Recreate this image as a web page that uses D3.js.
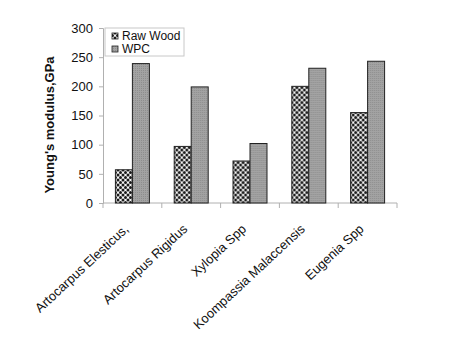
<!DOCTYPE html>
<html><head><meta charset="utf-8">
<script src="https://cdn.jsdelivr.net/npm/d3@7"></script>
<style>body{margin:0;background:#fff}svg{display:block}text{font-family:"Liberation Sans",Arial,sans-serif}</style>
</head><body>
<script>
const categories = ["Artocarpus Elesticus,", "Artocarpus Rigidus", "Xylopia Spp", "Koompassia Malaccensis", "Eugenia Spp"];
const seriesNames = ["Raw Wood", "WPC"];
const rawWood = [57, 97, 72, 200, 155];
const wpc = [239, 199, 102, 231, 243];
const yTicks = [0, 50, 100, 150, 200, 250, 300];

const W = 474, H = 340;
const svg = d3.select("body").append("svg").attr("width", W).attr("height", H);
const defs = svg.append("defs");
const pat = defs.append("pattern").attr("id","dots").attr("patternUnits","userSpaceOnUse").attr("width",5).attr("height",5);
pat.append("rect").attr("width",5).attr("height",5).attr("fill","#f4f4f4");
[[0,0],[5,0],[0,5],[5,5],[2.5,2.5]].forEach(([cx,cy])=>pat.append("circle").attr("cx",cx).attr("cy",cy).attr("r",1.5).attr("fill","#1a1a1a"));
const pat2 = defs.append("pattern").attr("id","stip").attr("patternUnits","userSpaceOnUse").attr("width",2).attr("height",2);
pat2.append("rect").attr("width",2).attr("height",2).attr("fill","#a3a3a3");
pat2.append("rect").attr("width",1).attr("height",1).attr("fill","#8e8e8e");

const x0 = 103, x1 = 397, y0 = 203, y1 = 28;
const x = d3.scaleBand().domain(categories).range([x0, x1]).paddingInner(0).paddingOuter(0);
const xs = d3.scaleBand().domain(seriesNames).range([0, x.bandwidth()]).paddingInner(0).paddingOuter(0.73);
const y = d3.scaleLinear().domain([0, 300]).range([y0, y1]);

const data = categories.map((c,i)=>({c, vals:[{s:"Raw Wood", v:rawWood[i]},{s:"WPC", v:wpc[i]}]}));

// y axis
const ya = svg.append("g").attr("transform",`translate(${x0},0)`).call(d3.axisLeft(y).tickValues(yTicks).tickSize(4).tickPadding(6));
ya.select(".domain").attr("stroke","#b0b0b0");
ya.selectAll(".tick line").attr("stroke","#b0b0b0");
ya.selectAll("text").attr("font-size",13).attr("fill","#111");

// x axis
const xa = svg.append("g").attr("transform",`translate(0,${y0})`);
xa.append("line").attr("x1",x0).attr("x2",x1).attr("stroke","#b0b0b0");
xa.selectAll("line.tk").data(categories.concat(["__end"])).enter().append("line").attr("class","tk")
  .attr("x1",d=>d==="__end"?x1:x(d)).attr("x2",d=>d==="__end"?x1:x(d)).attr("y1",0).attr("y2",5).attr("stroke","#b0b0b0");
xa.selectAll("text").data(categories).enter().append("text")
  .attr("transform",d=>`translate(${x(d)+x.bandwidth()/2-3},${27}) rotate(-43)`)
  .attr("text-anchor","end").attr("font-size",13).attr("fill","#111").text(d=>d);

// bars
const g = svg.append("g");
const grp = g.selectAll("g").data(data).enter().append("g").attr("transform",d=>`translate(${x(d.c)},0)`);
grp.selectAll("rect").data(d=>d.vals).enter().append("rect")
  .attr("x",d=>xs(d.s)).attr("width",xs.bandwidth())
  .attr("y",d=>y(d.v)).attr("height",d=>y0-y(d.v))
  .attr("fill",d=>d.s==="Raw Wood"?"url(#dots)":"url(#stip)")
  .attr("stroke","#222").attr("stroke-width",1);

// y title
svg.append("text").attr("transform",`translate(54,125) rotate(-90)`).attr("text-anchor","middle")
  .attr("font-size",13).attr("font-weight","bold").attr("fill","#111").text("Young's modulus,GPa");

// legend
const lg = svg.append("g").attr("transform","translate(105,28)");
lg.append("rect").attr("width",79).attr("height",28).attr("fill","#fff").attr("stroke","#c8c8c8");
seriesNames.forEach((s,i)=>{
  lg.append("rect").attr("x",7).attr("y",5+i*13).attr("width",6).attr("height",6)
    .attr("fill",s==="Raw Wood"?"url(#dots)":"url(#stip)").attr("stroke","#222").attr("stroke-width",0.8);
  lg.append("text").attr("x",17).attr("y",12+i*13).attr("font-size",12).attr("fill","#111").text(s);
});
</script>
</body></html>
